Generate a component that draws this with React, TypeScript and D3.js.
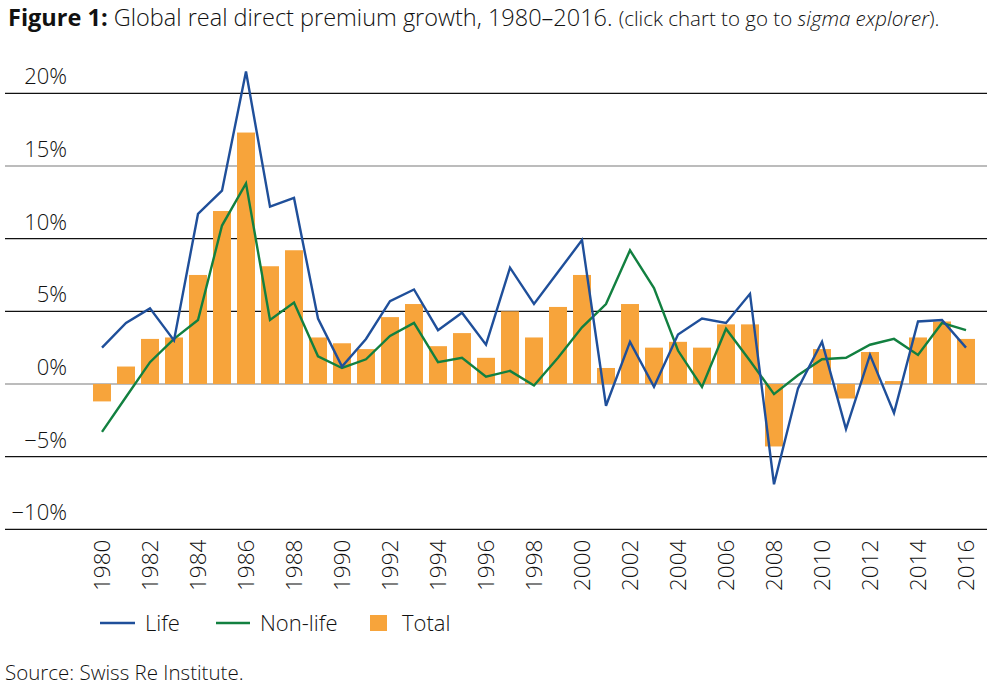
import React, { useEffect, useRef } from 'react';
import * as d3 from 'd3';

const years = d3.range(1980, 2017).map(String);

// real growth in %
const life = [
  2.5, 4.2, 5.2, 3.0, 11.7, 13.3, 21.5, 12.2, 12.8, 4.5,
  1.2, 3.1, 5.7, 6.5, 3.7, 4.9, 2.7, 8.0, 5.5, 7.7,
  9.9, -1.5, 2.9, -0.2, 3.4, 4.5, 4.2, 6.2, -6.9, -0.3,
  2.9, -3.1, 2.0, -2.0, 4.3, 4.4, 2.5,
];
const nonLife = [
  -3.3, -0.9, 1.5, 3.1, 4.4, 10.9, 13.8, 4.4, 5.6, 1.9,
  1.1, 1.7, 3.3, 4.2, 1.5, 1.8, 0.5, 0.9, -0.1, 1.8,
  3.9, 5.5, 9.2, 6.6, 2.3, -0.2, 3.8, 1.6, -0.7, 0.6,
  1.7, 1.8, 2.7, 3.1, 2.0, 4.2, 3.7,
];
const total = [
  -1.2, 1.2, 3.1, 3.2, 7.5, 11.9, 17.3, 8.1, 9.2, 3.2,
  2.8, 2.4, 4.6, 5.5, 2.6, 3.5, 1.8, 5.0, 3.2, 5.3,
  7.5, 1.1, 5.5, 2.5, 2.9, 2.5, 4.1, 4.1, -4.3, 0,
  2.4, -1.0, 2.2, 0.2, 3.2, 4.3, 3.1,
];
const yTicks = [20, 15, 10, 5, 0, -5, -10];
const greyTicks = [15, 0];

const LIFE = '#1f4f9a';
const NONLIFE = '#128040';
const TOTAL = '#f7a43b';
const FONT = '"Open Sans", "Liberation Sans", Arial, sans-serif';

const Chart = () => {
  const svgRef = useRef(null);

  useEffect(() => {
    const svg = d3.select(svgRef.current);
    svg.selectAll('*').remove();

    const x = d3.scaleBand().domain(years).range([90, 978]).paddingInner(0.25).paddingOuter(0.125);
    const y = d3.scaleLinear().domain([-10, 20]).range([529.3, 93.3]);
    const cx = d => x(d) + x.bandwidth() / 2;

    // title
    const title = svg.append('text').attr('x', 8).attr('y', 26)
      .style('font-family', FONT).style('font-size', '23.5px').style('font-weight', 300).attr('fill', '#111');
    title.append('tspan').style('font-weight', 700).text('Figure 1:');
    title.append('tspan').text(' Global real direct premium growth, 1980–2016. ');
    title.append('tspan').style('font-size', '20.5px').text('(click chart to go to ');
    title.append('tspan').style('font-size', '20.5px').style('font-style', 'italic').text('sigma explorer');
    title.append('tspan').style('font-size', '20.5px').text(').');

    // grid lines
    svg.append('g').selectAll('line').data(yTicks).enter().append('line')
      .attr('x1', 5).attr('x2', 987)
      .attr('y1', d => y(d)).attr('y2', d => y(d))
      .attr('stroke', d => (greyTicks.includes(d) ? '#a6a6a6' : '#111'))
      .attr('stroke-width', d => (greyTicks.includes(d) ? 1.5 : 1.2));

    svg.append('g').selectAll('text').data(yTicks).enter().append('text')
      .attr('x', 67).attr('y', d => y(d) - 9)
      .attr('text-anchor', 'end')
      .style('font-family', FONT).style('font-size', '22px').style('font-weight', 300).attr('fill', '#111')
      .text(d => (d < 0 ? '−' + Math.abs(d) : d) + '%');

    // bars
    svg.append('g').selectAll('rect').data(total).enter().append('rect')
      .attr('x', (d, i) => x(years[i]))
      .attr('width', x.bandwidth())
      .attr('y', d => y(Math.max(0, d)))
      .attr('height', d => Math.abs(y(d) - y(0)))
      .attr('fill', TOTAL);

    // lines
    const line = d3.line().x((d, i) => cx(years[i])).y(d => y(d));
    svg.append('path').datum(nonLife).attr('d', line)
      .attr('fill', 'none').attr('stroke', NONLIFE).attr('stroke-width', 2.4);
    svg.append('path').datum(life).attr('d', line)
      .attr('fill', 'none').attr('stroke', LIFE).attr('stroke-width', 2.4);

    // year labels, every other year
    svg.append('g').selectAll('text').data(years.filter((d, i) => i % 2 === 0)).enter().append('text')
      .attr('transform', d => `translate(${cx(d) + 8},591) rotate(-90)`)
      .style('font-family', FONT).style('font-size', '22.5px').style('font-weight', 300).attr('fill', '#111')
      .text(d => d);

    // legend
    const lg = svg.append('g').style('font-family', FONT).style('font-size', '22px').style('font-weight', 300);
    lg.append('line').attr('x1', 100).attr('x2', 135).attr('y1', 623).attr('y2', 623).attr('stroke', LIFE).attr('stroke-width', 2.4);
    lg.append('text').attr('x', 145).attr('y', 631).attr('fill', '#111').text('Life');
    lg.append('line').attr('x1', 216).attr('x2', 250).attr('y1', 623).attr('y2', 623).attr('stroke', NONLIFE).attr('stroke-width', 2.4);
    lg.append('text').attr('x', 260).attr('y', 631).attr('fill', '#111').text('Non-life');
    lg.append('rect').attr('x', 370).attr('y', 615).attr('width', 17).attr('height', 16).attr('fill', TOTAL);
    lg.append('text').attr('x', 402).attr('y', 631).attr('fill', '#111').text('Total');

    svg.append('text').attr('x', 5).attr('y', 680)
      .style('font-family', FONT).style('font-size', '20.5px').style('font-weight', 300).attr('fill', '#111')
      .text('Source: Swiss Re Institute.');
  }, []);

  return <svg ref={svgRef} width={994} height={690} />;
};

export default function App() {
  return (
    <div style={{ position: 'absolute', left: 0, top: 0, background: '#fff' }}>
      <Chart />
    </div>
  );
}
